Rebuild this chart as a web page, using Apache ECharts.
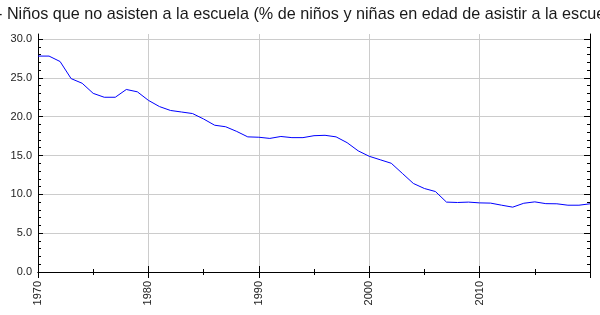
<!DOCTYPE html>
<html>
<head>
<meta charset="utf-8">
<script src="https://cdn.jsdelivr.net/npm/echarts@6/dist/echarts.min.js"></script>
<style>html,body{margin:0;padding:0;background:#fff;}#c{width:600px;height:315px;}</style>
</head>
<body>
<div id="c"></div>
<script>
var titleText = "- Niños que no asisten a la escuela (% de niños y niñas en edad de asistir a la escuela primaria)";
var years = [1970,1971,1972,1973,1974,1975,1976,1977,1978,1979,1980,1981,1982,1983,1984,1985,1986,1987,1988,1989,1990,1991,1992,1993,1994,1995,1996,1997,1998,1999,2000,2001,2002,2003,2004,2005,2006,2007,2008,2009,2010,2011,2012,2013,2014,2015,2016,2017,2018,2019,2020];
var values = [27.8,27.8,27.1,24.9,24.3,23.0,22.5,22.5,23.5,23.2,22.1,21.3,20.8,20.6,20.4,19.7,18.9,18.7,18.1,17.4,17.35,17.2,17.45,17.3,17.3,17.55,17.6,17.4,16.65,15.6,14.9,14.45,14.0,12.7,11.4,10.75,10.36,9.0,8.95,9.0,8.9,8.87,8.6,8.35,8.85,9.03,8.8,8.78,8.6,8.6,8.78];
var yTicks = [0,5,10,15,20,25,30];

var data = years.map(function(y,i){return [y, values[i]];});
var font = 'Liberation Sans, Arial, sans-serif';
var chart = echarts.init(document.getElementById('c'), null, {renderer:'canvas'});
var axisLineStyle = {color:'#000', width:1};
chart.setOption({
  animation:false,
  backgroundColor:'#fff',
  title:{text:titleText,left:-3,top:7,padding:0,textStyle:{fontFamily:font,fontSize:16.2,fontWeight:'normal',color:'#1a1a1a'}},
  grid:[
    {left:38,right:10,top:34,bottom:43,containLabel:false},
    {left:38,right:10,top:39,bottom:43,containLabel:false}
  ],
  xAxis:[
    {gridIndex:0,type:'value',position:'top',min:1970,max:2020,interval:10,
     axisLine:{show:true,lineStyle:axisLineStyle},
     axisTick:{show:true,inside:true,length:6,lineStyle:axisLineStyle},
     minorTick:{show:true,splitNumber:2,length:3,lineStyle:axisLineStyle},
     axisLabel:{show:false},
     splitLine:{show:true,lineStyle:{color:'#cccccc',width:1}}},
    {gridIndex:1,type:'value',position:'bottom',min:1970,max:2020,interval:10,
     axisLine:{show:true,lineStyle:axisLineStyle},
     axisTick:{show:true,inside:true,length:6,lineStyle:axisLineStyle},
     minorTick:{show:true,splitNumber:2,length:3,lineStyle:axisLineStyle},
     axisLabel:{show:true,rotate:90,margin:9,fontFamily:font,fontSize:11,color:'#222',
       showMaxLabel:false,formatter:function(v){return String(v);}},
     splitLine:{show:false}}
  ],
  yAxis:[
    {gridIndex:0,type:'value',position:'left',min:0,max:1,
     axisLine:{show:true,lineStyle:axisLineStyle},axisTick:{show:false},axisLabel:{show:false},splitLine:{show:false}},
    {gridIndex:0,type:'value',position:'right',min:0,max:1,
     axisLine:{show:true,lineStyle:axisLineStyle},axisTick:{show:false},axisLabel:{show:false},splitLine:{show:false}},
    {gridIndex:1,type:'value',position:'left',min:yTicks[0],max:yTicks[yTicks.length-1],interval:5,
     axisLine:{show:true,lineStyle:axisLineStyle},
     axisTick:{show:true,inside:true,length:5,lineStyle:axisLineStyle},
     minorTick:{show:true,splitNumber:5,length:3,lineStyle:axisLineStyle},
     axisLabel:{show:true,margin:6,fontFamily:font,fontSize:11,color:'#222',formatter:function(v){return v.toFixed(1);}},
     splitLine:{show:true,lineStyle:{color:'#cccccc',width:1}}},
    {gridIndex:1,type:'value',position:'right',min:yTicks[0],max:yTicks[yTicks.length-1],interval:5,
     axisLine:{show:true,lineStyle:axisLineStyle},
     axisTick:{show:true,inside:true,length:6,lineStyle:axisLineStyle},
     minorTick:{show:true,splitNumber:5,length:3,lineStyle:axisLineStyle},
     axisLabel:{show:false},splitLine:{show:false}}
  ],
  series:[{type:'line',xAxisIndex:1,yAxisIndex:2,data:data,symbol:'none',smooth:false,
    lineStyle:{color:'#0000ff',width:1},z:5}]
});
</script>
</body>
</html>
